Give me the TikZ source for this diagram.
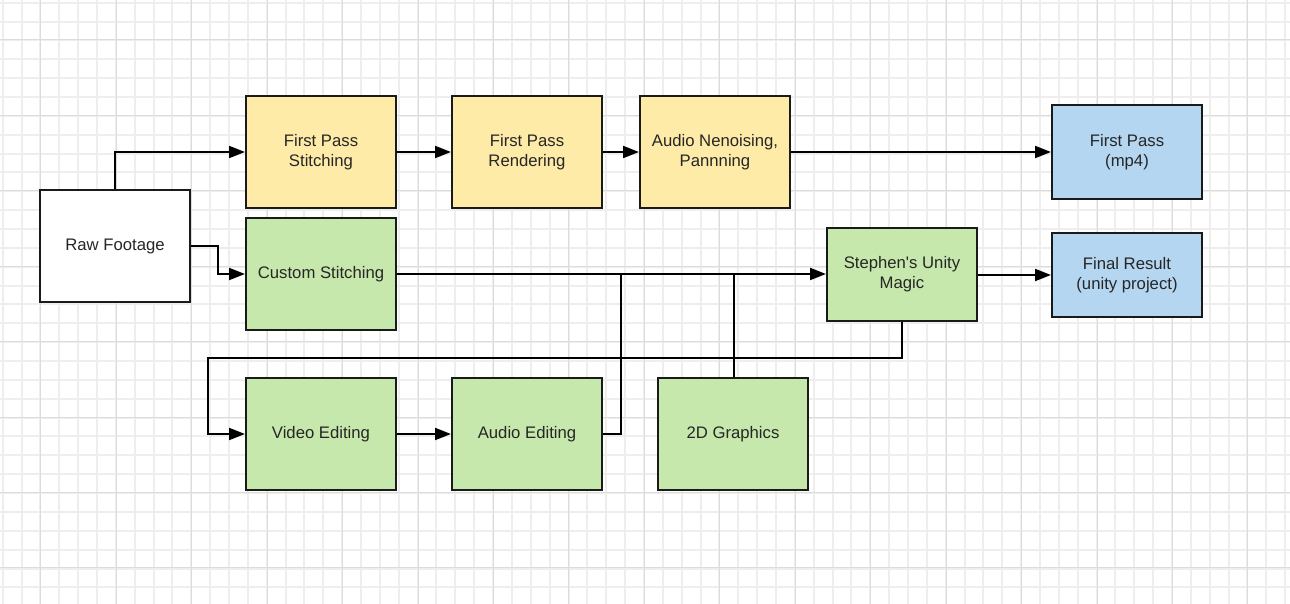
\documentclass[tikz,border=0pt]{standalone}
\usepackage{fontspec}
\setmainfont{Liberation Sans}
\usetikzlibrary{arrows.meta}
\definecolor{yel}{HTML}{FFEBA8}
\definecolor{grn}{HTML}{C7E8AC}
\definecolor{blu}{HTML}{B4D6F0}
\definecolor{minorg}{HTML}{EEEEEE}
\definecolor{majorg}{HTML}{DCDCDC}
\definecolor{edge}{HTML}{1A1A1A}
\tikzset{
  box/.style={draw=edge, line width=2pt, minimum width=150pt, align=center,
    font=\fontsize{16.7}{20}\selectfont, text=black!85},
  ybox/.style={box, fill=yel, minimum height=112pt},
  gbox/.style={box, fill=grn, minimum height=112pt},
  bbox/.style={box, fill=blu},
  arr/.style={line width=2pt, -{Triangle[length=16pt,width=12pt]}},
  ln/.style={line width=2pt},
  gminor/.style={minorg, line width=2pt},
  gmajor/.style={majorg, line width=1pt},
}
\begin{document}
\begin{tikzpicture}[x=1pt,y=-1pt]
\useasboundingbox (0,0) rectangle (1290,604);
\fill[white] (0,0) rectangle (1290,604);
% grid
\foreach \i in {0,...,68} {
  \pgfmathsetmacro{\xx}{round(2.7+18.86*\i)}
  \draw[gminor] (\xx,0) -- (\xx,604);
}
\foreach \i in {0,...,32} {
  \pgfmathsetmacro{\yy}{round(2.7+18.86*\i)}
  \draw[gminor] (0,\yy) -- (1290,\yy);
}
\foreach \i in {0,...,17} {
  \pgfmathsetmacro{\xx}{round(40.4+75.44*\i)+0.5}
  \draw[gmajor] (\xx,0) -- (\xx,604);
}
\foreach \i in {0,...,8} {
  \pgfmathsetmacro{\yy}{round(39.3+75.44*\i)+0.5}
  \draw[gmajor] (0,\yy) -- (1290,\yy);
}
% nodes
\node[box, fill=white, minimum height=112pt] (raw) at (115,246) {Raw Footage};
\node[ybox] (fps) at (321,152) {First Pass\\Stitching};
\node[ybox] (fpr) at (527,152) {First Pass\\Rendering};
\node[ybox] (aud) at (715,152) {Audio Nenoising,\\Pannning};
\node[bbox, minimum height=94pt] (fp) at (1127,152) {First Pass\\(mp4)};
\node[gbox] (cs) at (321,274) {Custom Stitching};
\node[bbox, minimum height=84pt] (fr) at (1127,275) {Final Result\\(unity project)};
\node[gbox, minimum height=93pt] (sum) at (902,274.5) {Stephen\textquotesingle s Unity\\Magic};
\node[gbox] (ve) at (321,434) {Video Editing};
\node[gbox] (ae) at (527,434) {Audio Editing};
\node[gbox] (g2) at (733,434) {2D Graphics};
\coordinate (c1) at (208,358);
\coordinate (c2) at (218,246);
\coordinate (j1) at (621,274);
\coordinate (j2) at (734,274);
% connectors
\draw[arr] (raw.north) |- (fps.west);
\draw[arr] (fps.east) -- (fpr.west);
\draw[arr] (fpr.east) -- (aud.west);
\draw[arr] (aud.east) -- (fp.west |- aud.east);
\draw[arr] (raw.east |- c2) -- (c2) |- (cs.west);
\draw[arr] (cs.east) -- (sum.west |- cs.east);
\draw[arr] (sum.east |- fr.west) -- (fr.west);
\draw[arr] (sum.south) |- (c1) |- (ve.west);
\draw[arr] (ve.east) -- (ae.west);
\draw[ln] (ae.east) -| (j1);
\draw[ln] (g2.north -| j2) -- (j2);
\end{tikzpicture}
\end{document}
